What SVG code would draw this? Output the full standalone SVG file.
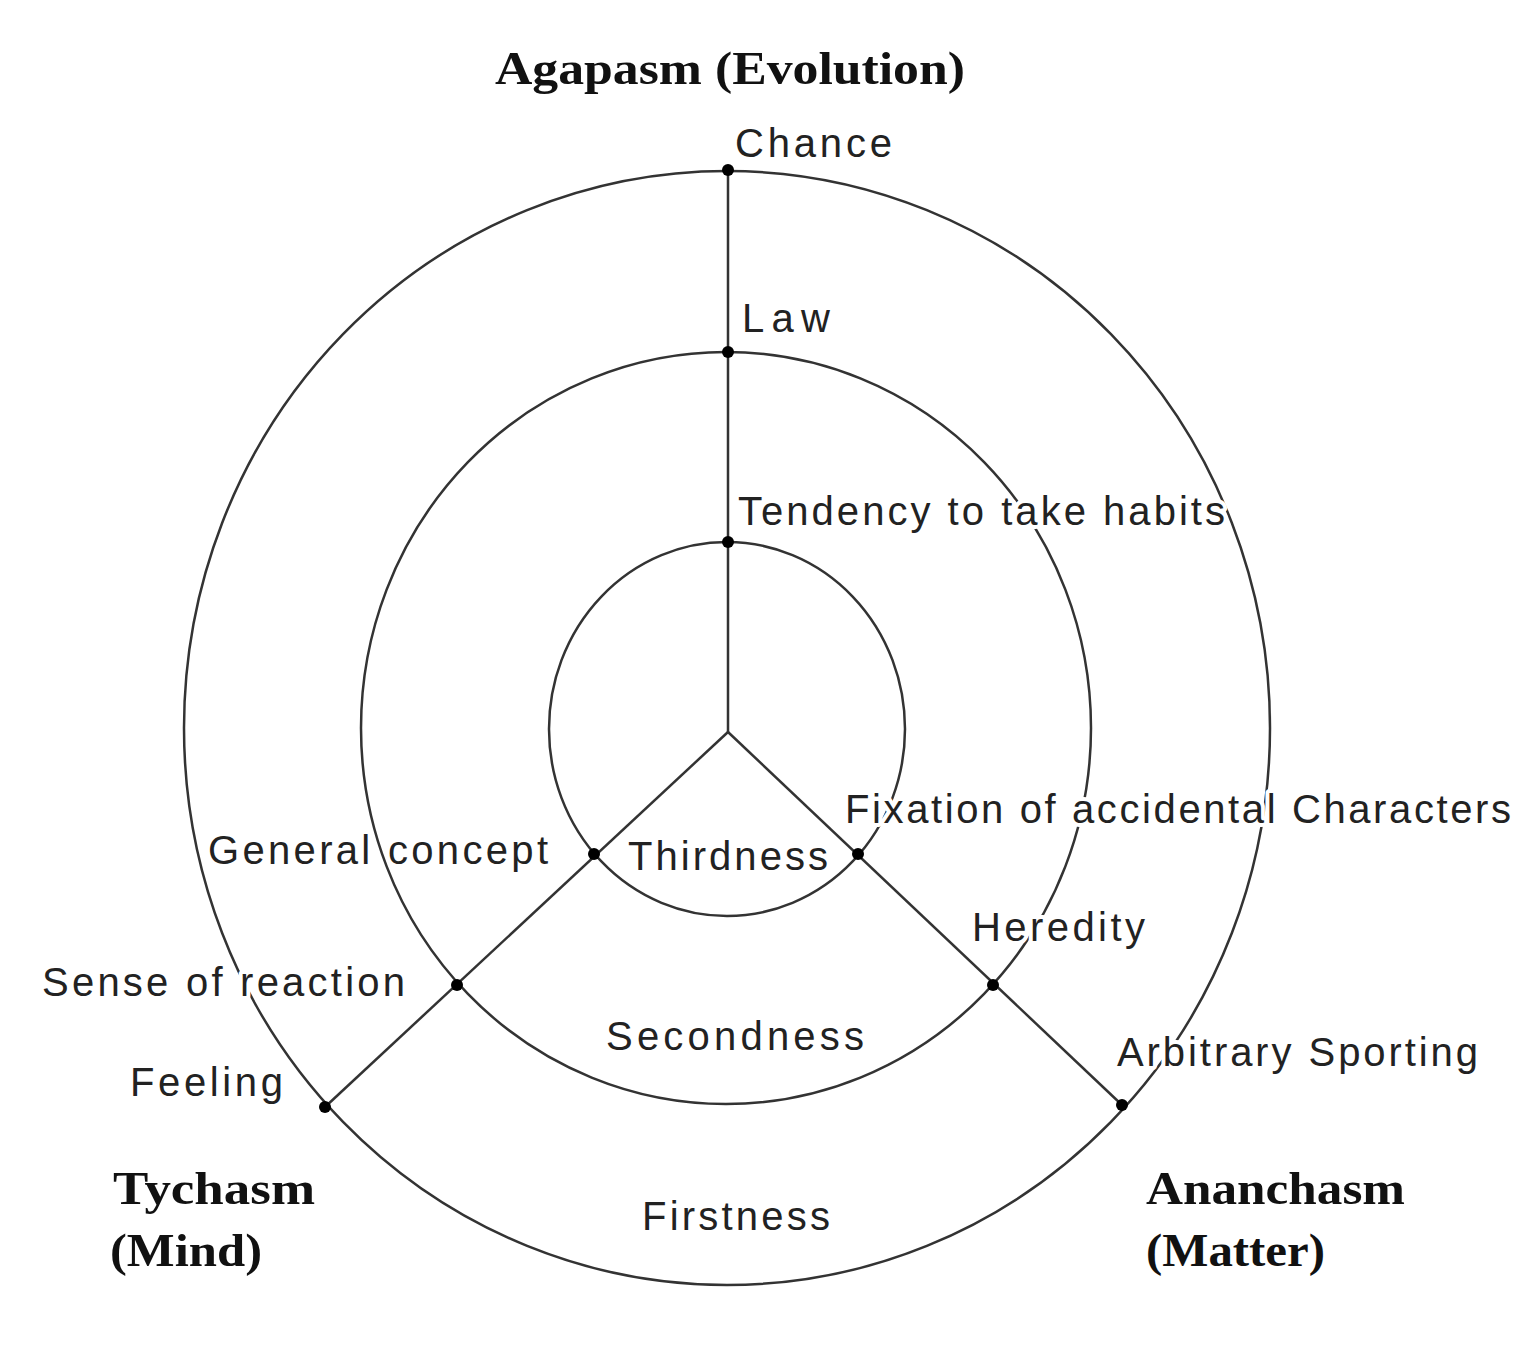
<svg xmlns="http://www.w3.org/2000/svg" width="1518" height="1367" viewBox="0 0 1518 1367">
<style>
.c{fill:none;stroke:#333;stroke-width:2.5}
.l{font-family:"Liberation Sans",Arial,sans-serif;font-size:40px;fill:#222;stroke:#fff;stroke-width:8;paint-order:stroke;stroke-linejoin:round}
.t{font-family:"Liberation Serif","Times New Roman",serif;font-size:46px;font-weight:bold;fill:#111}
.d{fill:#000}
</style>
<rect width="1518" height="1367" fill="#fff"/>
<g id="rings">
<ellipse class="c" cx="727" cy="728" rx="543" ry="557"/>
<ellipse class="c" cx="726" cy="728" rx="365" ry="376"/>
<ellipse class="c" cx="727" cy="729" rx="178" ry="187"/>
</g>
<g id="connectors">
<line class="c" x1="728" y1="170" x2="728" y2="732"/>
<line class="c" x1="728" y1="732" x2="325" y2="1107"/>
<line class="c" x1="728" y1="732" x2="1122" y2="1105"/>
</g>
<g id="labels">
<text class="t" x="495" y="84" textLength="470" lengthAdjust="spacingAndGlyphs">Agapasm (Evolution)</text>
<text class="l" x="735" y="157" textLength="157">Chance</text>
<text class="l" x="742" y="332" textLength="88">Law</text>
<text class="l" x="738" y="525" textLength="487">Tendency to take habits</text>
<text class="l" x="845" y="823" textLength="666">Fixation of accidental Characters</text>
<text class="l" x="208" y="864" textLength="340">General concept</text>
<text class="l" x="628" y="870" textLength="200">Thirdness</text>
<text class="l" x="972" y="941" textLength="173">Heredity</text>
<text class="l" x="42" y="996" textLength="363">Sense of reaction</text>
<text class="l" x="606" y="1050" textLength="258">Secondness</text>
<text class="l" x="1117" y="1066" textLength="361">Arbitrary Sporting</text>
<text class="l" x="130" y="1096" textLength="153">Feeling</text>
<text class="l" x="642" y="1230" textLength="188">Firstness</text>
<text class="t" x="113" y="1204" textLength="202" lengthAdjust="spacingAndGlyphs">Tychasm</text>
<text class="t" x="110" y="1266" textLength="152" lengthAdjust="spacingAndGlyphs">(Mind)</text>
<text class="t" x="1146" y="1204" textLength="259" lengthAdjust="spacingAndGlyphs">Ananchasm</text>
<text class="t" x="1146" y="1266" textLength="179" lengthAdjust="spacingAndGlyphs">(Matter)</text>
</g>
<g id="dots">
<circle class="d" cx="728" cy="170" r="6"/>
<circle class="d" cx="728" cy="352" r="6"/>
<circle class="d" cx="728" cy="542" r="6"/>
<circle class="d" cx="594" cy="854" r="6"/>
<circle class="d" cx="858" cy="854" r="6"/>
<circle class="d" cx="457" cy="985" r="6"/>
<circle class="d" cx="993" cy="985" r="6"/>
<circle class="d" cx="325" cy="1107" r="6"/>
<circle class="d" cx="1122" cy="1105" r="6"/>
</g>
</svg>
